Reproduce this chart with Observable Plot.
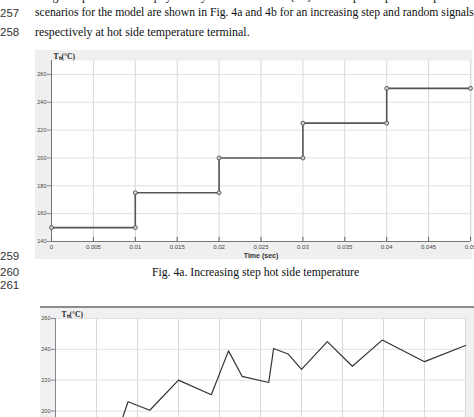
<!DOCTYPE html>
<html><head><meta charset="utf-8">
<script src="https://cdn.jsdelivr.net/npm/d3@7"></script>
<script src="https://cdn.jsdelivr.net/npm/@observablehq/plot@0.6"></script>
<style>
html,body{margin:0;padding:0;background:#fff;overflow:hidden;width:474px;height:417px;position:relative;}
.t{position:absolute;white-space:nowrap;font-family:"Liberation Serif","Times New Roman",serif;font-size:11.9px;line-height:12px;color:#111;}
.n{position:absolute;white-space:nowrap;font-family:"Liberation Sans",Arial,sans-serif;font-size:11.5px;line-height:11.5px;color:#333;}
#c1{position:absolute;left:35px;top:50px;}
#c2{position:absolute;left:40px;top:306px;border-top:2px solid #8c8c8c;}
#c1 svg,#c2 svg{display:block;}
</style></head><body>
<div class="t" style="left:35px;top:-10.5px">the given parameters for physical system are listed in [33]. The output responses of possible</div>
<div class="n" style="left:0;top:8.4px">257</div>
<div class="t" style="left:35px;top:6.7px;font-size:11.7px">scenarios for the model are shown in Fig. 4a and 4b for an increasing step and random signals</div>
<div class="n" style="left:0;top:27.4px">258</div>
<div class="t" style="left:35px;top:25.7px">respectively at hot side temperature terminal.</div>
<div id="c1"></div>
<div class="n" style="left:0;top:251px">259</div>
<div class="n" style="left:0;top:267.4px">260</div>
<div class="t" style="left:152px;top:267px;font-size:11.7px">Fig. 4a. Increasing step hot side temperature</div>
<div class="n" style="left:0;top:280.4px">261</div>
<div id="c2"></div>
<script>
// ---- Fig. 4a data (increasing step) ----
const stepTime = [0, 0.01, 0.01, 0.02, 0.02, 0.03, 0.03, 0.04, 0.04, 0.05];
const stepTemp = [150, 150, 175, 175, 200, 200, 225, 225, 250, 250];
const xTicks1 = [0, 0.005, 0.01, 0.015, 0.02, 0.025, 0.03, 0.035, 0.04, 0.045, 0.05];
const xTickLabels1 = ["0", "0.005", "0.01", "0.015", "0.02", "0.025", "0.03", "0.035", "0.04", "0.045", "0.05"];
const yTicks1 = [140, 160, 180, 200, 220, 240, 260];
const yLabel = "Tₕ(°C)";
const xLabel1 = "Time (sec)";

// ---- Fig. 4b data (random signal, visible part) ----
const randTime = [1.5, 1.77, 2.3, 3.0, 3.8, 4.22, 4.55, 5.2, 5.32, 5.67, 6.0, 6.63, 7.24, 7.97, 9.0, 10.0];
const randTemp = [185, 206, 200.5, 220, 210.5, 239, 222.5, 218.5, 240.5, 237, 227, 245, 229, 246, 232, 242.5];
const xTicks2 = [0, 1, 2, 3, 4, 5, 6, 7, 8, 9, 10];
const yTicks2 = [140, 160, 180, 200, 220, 240, 260];

const sans = "Liberation Sans, Arial, sans-serif";
const serif = "Liberation Serif, Times New Roman, serif";

const data1 = stepTime.map((t, i) => ({t, v: stepTemp[i]}));
const fmt1 = d => xTickLabels1[xTicks1.indexOf(d)];

const p1 = Plot.plot({
  width: 437, height: 209,
  marginLeft: 16, marginRight: 2, marginTop: 10, marginBottom: 18,
  style: {background: "#efefef", fontFamily: sans, fontSize: "6px", color: "#444", overflow: "visible"},
  x: {domain: [0, 0.05]},
  y: {domain: [140, 270]},
  marks: [
    Plot.frame({fill: "white", stroke: null}),
    Plot.gridX(xTicks1, {stroke: "#d8d8d8", strokeOpacity: 1}),
    Plot.gridY(yTicks1, {stroke: "#e0e0e0", strokeOpacity: 1}),
    Plot.ruleY([140], {stroke: "#777"}),
    Plot.ruleX([0], {stroke: "#777"}),
    Plot.ruleX(xTicks1, {x: d => d, y1: 140, y2: 143, stroke: "#666"}),
    Plot.axisX(xTicks1, {tickSize: 0, tickPadding: 3, tickFormat: fmt1, label: null, fontSize: 6}),
    Plot.axisY(yTicks1, {tickSize: 4, tickPadding: 1, stroke: "#888", label: null, fontSize: 5.5}),
    Plot.line(data1, {x: "t", y: "v", stroke: "#555", strokeWidth: 1.6}),
    Plot.dot(data1, {x: "t", y: "v", r: 2, stroke: "#444", fill: "#cfcfcf", strokeWidth: 0.8}),
    Plot.text([yLabel], {x: 0, y: 270, dx: 2, dy: -4, textAnchor: "start", fontWeight: "bold", fontFamily: serif, fontSize: 7.5, fill: "#222"}),
    Plot.text([xLabel1], {x: 0.025, y: 140, dy: 14, fontWeight: "bold", fontSize: 7, fill: "#333"})
  ]
});
document.getElementById("c1").appendChild(p1);

const data2 = randTime.map((t, i) => ({t, v: randTemp[i]}));
const p2 = Plot.plot({
  width: 434, height: 213,
  marginLeft: 15, marginRight: 9, marginTop: 10, marginBottom: 18,
  style: {background: "#f0f0f0", fontFamily: sans, fontSize: "6px", color: "#444", overflow: "visible"},
  x: {domain: [0, 10]},
  y: {domain: [140, 260]},
  marks: [
    Plot.frame({fill: "white", stroke: null}),
    Plot.gridX(xTicks2, {stroke: "#d8d8d8", strokeOpacity: 1}),
    Plot.gridY(yTicks2, {stroke: "#e2e2e2", strokeOpacity: 1}),
    Plot.ruleX([0], {stroke: "#888"}),
    Plot.axisX(xTicks2, {tickSize: 0, tickPadding: 3, label: null, fontSize: 6}),
    Plot.axisY(yTicks2, {tickSize: 4, tickPadding: 1, stroke: "#888", label: null, fontSize: 5.5}),
    Plot.line(data2, {x: "t", y: "v", stroke: "#333", strokeWidth: 1.2}),
    Plot.text([yLabel], {x: 0, y: 260, dx: 6, dy: -4, textAnchor: "start", fontWeight: "bold", fontFamily: serif, fontSize: 7.5, fill: "#222"})
  ]
});
document.getElementById("c2").appendChild(p2);
</script>
</body></html>
